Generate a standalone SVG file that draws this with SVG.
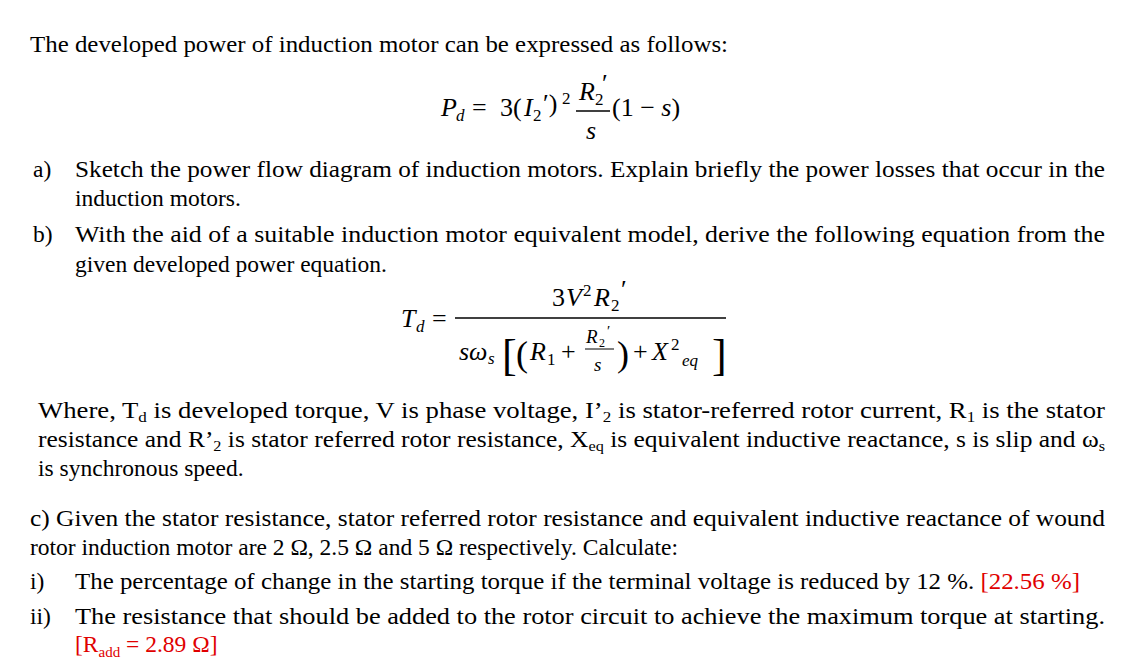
<svg xmlns="http://www.w3.org/2000/svg" width="1135" height="665" viewBox="0 0 1135 665">
<style>
text{font-family:"Liberation Serif","Times New Roman",serif;font-size:23.5px;fill:#000}
.m{font-style:italic;font-size:26px}
.n{font-size:26px}
.r{fill:#e00000}
.s{font-size:15px}
.ms{font-size:17px}
</style>
<rect width="1135" height="665" fill="#fff"/>
<text x="30" y="52" textLength="698" lengthAdjust="spacingAndGlyphs">The developed power of induction motor can be expressed as follows:</text>
<g id="eq1">
<text x="441" y="116" class="m">P</text>
<text x="456" y="121" class="m ms">d</text>
<text x="472" y="116" class="n">=</text>
<text x="500" y="116" class="n">3(</text>
<text x="524" y="116" class="m">I</text>
<text x="533" y="121" class="ms">2</text>
<text x="543" y="112" class="n">′)</text>
<text x="562" y="104" class="ms">2</text>
<text x="579" y="100" class="m">R</text>
<text x="595" y="105" class="ms">2</text>
<text x="602" y="92" class="n">′</text>
<line x1="576" y1="111" x2="610" y2="111" stroke="#000" stroke-width="1.3"/>
<text x="586" y="139" class="m">s</text>
<text x="612" y="116" class="n">(1 − <tspan font-style="italic">s</tspan>)</text>
</g>
<text x="33" y="177">a)</text>
<text x="75" y="177" textLength="1030" lengthAdjust="spacingAndGlyphs">Sketch the power flow diagram of induction motors. Explain briefly the power losses that occur in the</text>
<text x="75" y="206">induction motors.</text>
<text x="33" y="242">b)</text>
<text x="75" y="242" textLength="1030" lengthAdjust="spacingAndGlyphs">With the aid of a suitable induction motor equivalent model, derive the following equation from the</text>
<text x="75" y="272">given developed power equation.</text>
<g id="eq2">
<text x="401" y="327" class="m">T</text>
<text x="416" y="332" class="m ms">d</text>
<text x="432" y="327" class="n">=</text>
<text x="552" y="306" class="n">3</text>
<text x="566" y="306" class="m">V</text>
<text x="583" y="296" class="ms">2</text>
<text x="594" y="306" class="m">R</text>
<text x="611" y="311" class="ms">2</text>
<text x="621" y="298" class="n">′</text>
<line x1="455" y1="318" x2="726" y2="318" stroke="#000" stroke-width="1.3"/>
<text x="459" y="360" class="m">sω</text>
<text x="488" y="364" class="m ms">s</text>
<text x="502" y="370" style="font-size:44px">[</text>
<text x="516" y="366" style="font-size:36px">(</text>
<text x="530" y="360" class="m">R</text>
<text x="547" y="365" class="ms">1</text>
<text x="561" y="360" class="n">+</text>
<text x="586" y="343" class="m" style="font-size:19px">R</text>
<text x="599" y="347" style="font-size:12px">2</text>
<text x="607" y="336" style="font-size:15px">′</text>
<line x1="585" y1="349" x2="614" y2="349" stroke="#000" stroke-width="1"/>
<text x="594" y="371" class="m" style="font-size:19px">s</text>
<text x="617" y="366" style="font-size:36px">)</text>
<text x="633" y="360" class="n">+</text>
<text x="652" y="360" class="m">X</text>
<text x="671" y="350" class="ms">2</text>
<text x="682" y="366" class="m ms">eq</text>
<text x="712" y="370" style="font-size:44px">]</text>
</g>
<text x="38" y="418" textLength="1067" lengthAdjust="spacingAndGlyphs">Where, T<tspan class="s" dy="4">d</tspan><tspan dy="-4"> is developed torque, V is phase voltage, I’</tspan><tspan class="s" dy="4">2</tspan><tspan dy="-4"> is stator-referred rotor current, R</tspan><tspan class="s" dy="4">1</tspan><tspan dy="-4"> is the stator</tspan></text>
<text x="38" y="447" textLength="1067" lengthAdjust="spacingAndGlyphs">resistance and R’<tspan class="s" dy="4">2</tspan><tspan dy="-4"> is stator referred rotor resistance, X</tspan><tspan class="s" dy="4">eq</tspan><tspan dy="-4"> is equivalent inductive reactance, s is slip and ω</tspan><tspan class="s" dy="4">s</tspan></text>
<text x="38" y="476">is synchronous speed.</text>
<text x="30" y="526" textLength="1075" lengthAdjust="spacingAndGlyphs">c) Given the stator resistance, stator referred rotor resistance and equivalent inductive reactance of wound</text>
<text x="30" y="555">rotor induction motor are 2 Ω, 2.5 Ω and 5 Ω respectively. Calculate:</text>
<text x="30" y="589">i)</text>
<text x="75" y="589" textLength="1005" lengthAdjust="spacingAndGlyphs">The percentage of change in the starting torque if the terminal voltage is reduced by 12 %. <tspan class="r">[22.56 %]</tspan></text>
<text x="30" y="624">ii)</text>
<text x="75" y="624" textLength="1030" lengthAdjust="spacingAndGlyphs">The resistance that should be added to the rotor circuit to achieve the maximum torque at starting.</text>
<text x="75" y="652" class="r">[R<tspan class="s r" dy="5">add</tspan><tspan dy="-5"> = 2.89 Ω]</tspan></text>
</svg>
